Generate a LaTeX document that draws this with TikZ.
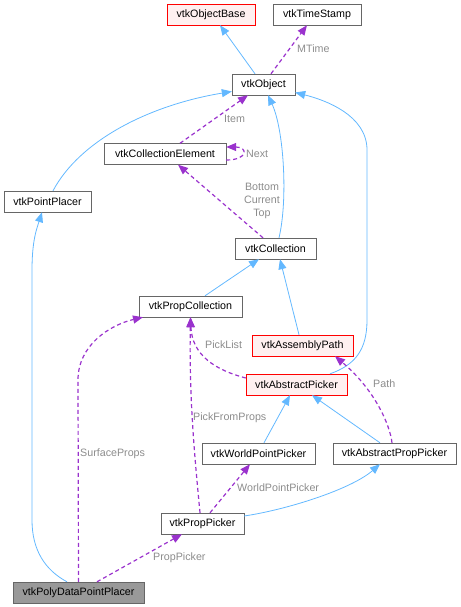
\documentclass[tikz,border=0pt]{standalone}
\usepackage{fontspec}
\setmainfont{Liberation Sans}
\usetikzlibrary{arrows.meta}
\definecolor{edgeblue}{HTML}{63B8FF}
\definecolor{edgepurple}{HTML}{9A32CD}
\definecolor{boxgray}{HTML}{666666}
\definecolor{redfill}{HTML}{FFF0F0}
\definecolor{polyfill}{HTML}{999999}
\definecolor{lblgray}{HTML}{8C8C8C}
\tikzstyle{block} = [rectangle, draw=boxgray, fill=white, minimum height=21pt, inner sep=0pt, font=\fontsize{10.7}{12}\selectfont]
\tikzstyle{redblock} = [block, draw=red, fill=redfill]
\tikzstyle{inherit} = [draw=edgeblue, line width=0.8pt, -{Triangle[length=10pt,width=8pt]}]
\tikzstyle{member} = [draw=edgepurple, line width=1.2pt, dash pattern=on 4pt off 3pt, -{Triangle[length=10pt,width=8pt]}]
\tikzstyle{lbl} = [text=lblgray, inner sep=0pt, anchor=west, font=\fontsize{10.7}{13}\selectfont]

\begin{document}
\begin{tikzpicture}[x=1pt, y=-1pt]
    \useasboundingbox (0,0) rectangle (460,607);
    % Blocks
    \node [redblock, minimum width=88pt] (base) at (211,14.5) {vtkObjectBase};
    \node [block, minimum width=88pt] (stamp) at (317,14.5) {vtkTimeStamp};
    \node [block, minimum width=63pt] (obj) at (263.5,84.5) {vtkObject};
    \node [block, minimum width=122pt] (elem) at (165,154) {vtkCollectionElement};
    \node [block, minimum width=87pt] (placer) at (47.5,201.5) {vtkPointPlacer};
    \node [block, minimum width=81pt] (coll) at (275.5,248.5) {vtkCollection};
    \node [block, minimum width=103pt] (pcoll) at (190.5,306.5) {vtkPropCollection};
    \node [redblock, minimum width=101pt] (apath) at (302.5,345.5) {vtkAssemblyPath};
    \node [redblock, minimum width=101pt] (apick) at (296.5,384.5) {vtkAbstractPicker};
    \node [block, minimum width=113pt] (wpick) at (258.5,453.5) {vtkWorldPointPicker};
    \node [block, minimum width=123pt] (appick) at (394.5,453.5) {vtkAbstractPropPicker};
    \node [block, minimum width=83pt] (ppick) at (202.5,523.5) {vtkPropPicker};
    \node [block, fill=polyfill, minimum width=131pt] (poly) at (78.5,592.5) {vtkPolyDataPointPlacer};
    % Lines
    \path [inherit] ([xshift=-8.5pt]obj.north) -- ([xshift=9pt]base.south);
    \path [member] ([xshift=7.5pt]obj.north) -- ([xshift=-10pt]stamp.south);
    \path [inherit] ([xshift=5.5pt]placer.north) .. controls (80,140) and (150,105) .. ([yshift=-7pt]obj.west);
    \path [member] ([xshift=15pt]elem.north) -- ([xshift=-15.5pt]obj.south);
    \path [member] ([yshift=-6pt]elem.east) .. controls +(22,0) and +(22,0) .. ([yshift=7pt]elem.east);
    \path [member] ([xshift=-12.5pt]coll.north) -- ([xshift=13pt]elem.south);
    \path [inherit] ([xshift=3.5pt]coll.north) .. controls (288,200) and (284,130) .. ([xshift=4.5pt]obj.south);
    \path [inherit] ([xshift=33.5pt]apick.north) .. controls (355,365) and (367,350) .. (367,320)
        -- (367,150) .. controls (367,115) and (325,100) .. ([yshift=-8pt]obj.east);
    \path [inherit] ([xshift=14.5pt]pcoll.north) -- ([xshift=-16.5pt]coll.south);
    \path [inherit] ([xshift=-3.5pt]apath.north) -- ([xshift=4.5pt]coll.south);
    \path [member] ([yshift=6.5pt]apick.west) .. controls (215,370) and (192,355) .. (pcoll.south);
    \path [member] ([xshift=-2.5pt]appick.north) .. controls (390,425) and (375,390) .. ([xshift=32.5pt]apath.south);
    \path [inherit] ([xshift=5.5pt]wpick.north) -- ([xshift=-6.5pt]apick.south);
    \path [inherit] ([xshift=-14.5pt]appick.north) -- ([xshift=15.5pt]apick.south);
    \path [inherit] ([yshift=7.5pt]ppick.east) .. controls (285,510) and (350,490) .. ([xshift=-14.5pt]appick.south);
    \path [member] ([xshift=-2.5pt]ppick.north) .. controls (195,460) and (189,400) .. (pcoll.south);
    \path [member] ([xshift=7.5pt]ppick.north) -- ([xshift=-8.5pt]wpick.south);
    \path [inherit] ([xshift=-11.5pt]poly.north) .. controls (45,570) and (32,550) .. (32,520)
        -- (32,270) .. controls (32,240) and (37,228) .. ([xshift=-5.5pt]placer.south);
    \path [member] (poly.north) -- (78,380) .. controls (78,345) and (110,325) .. ([xshift=-47.5pt]pcoll.south);
    \path [member] ([xshift=18.5pt]poly.north) -- ([xshift=-20.5pt]ppick.south);
    % Labels
    \node [lbl] (lmtime) at (297,49) {MTime};
    \node [lbl] (litem) at (224,119) {Item};
    \node [lbl] (lnext) at (246,154) {Next};
    \node [lbl, anchor=center, align=center] (lends) at (262,201) {Bottom\\Current\\Top};
    \node [lbl] (lpicklist) at (205,345) {PickList};
    \node [lbl] (lpath) at (373,384) {Path};
    \node [lbl] (lpickfrom) at (193,418) {PickFromProps};
    \node [lbl] (lsurface) at (80,454) {SurfaceProps};
    \node [lbl] (lworld) at (237,488) {WorldPointPicker};
    \node [lbl] (lproppick) at (153,558) {PropPicker};
\end{tikzpicture}
\end{document}
